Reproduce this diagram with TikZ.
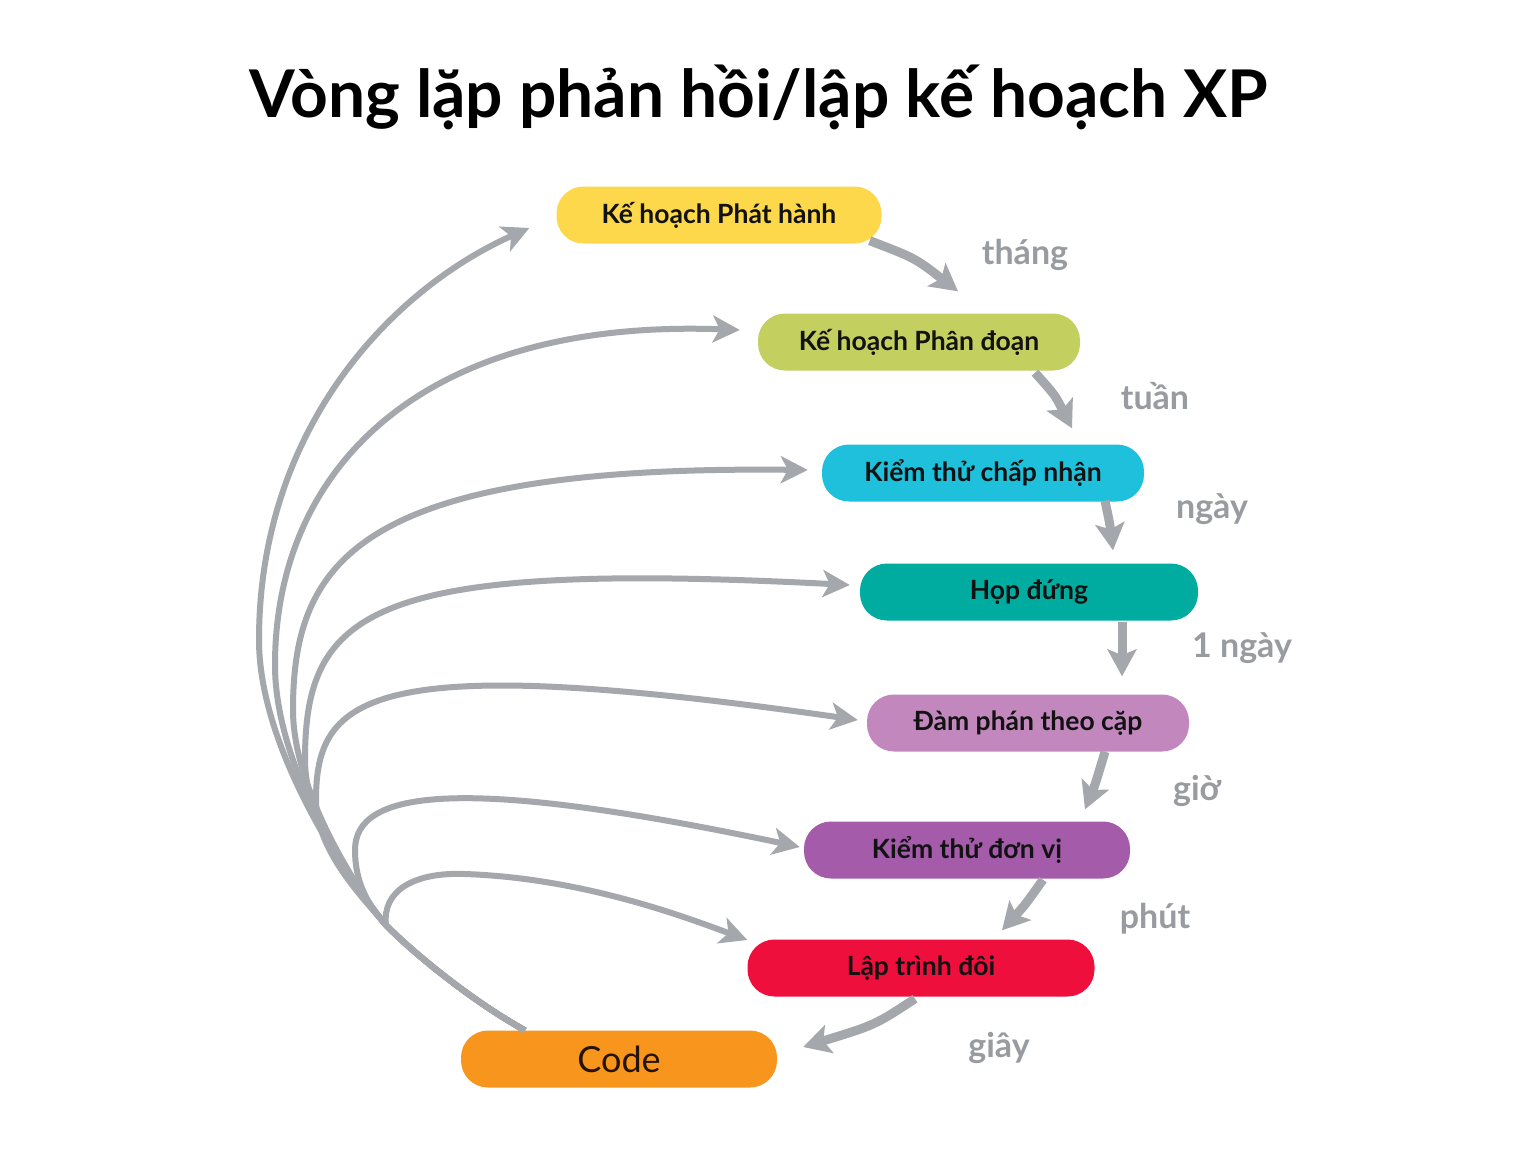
\documentclass[tikz,border=0pt]{standalone}
\usepackage{fontspec}
\setmainfont{Lato}
\usetikzlibrary{arrows.meta,calc}
\definecolor{cyel}{HTML}{FDD84A}
\definecolor{clime}{HTML}{C3CF5E}
\definecolor{ccyan}{HTML}{1EC0DB}
\definecolor{cteal}{HTML}{00AB9F}
\definecolor{cpink}{HTML}{C288BD}
\definecolor{cpurp}{HTML}{A45BA9}
\definecolor{cred}{HTML}{EF0F3D}
\definecolor{corange}{HTML}{F7951D}
\definecolor{cline}{HTML}{A4A7AB}
\definecolor{clabel}{HTML}{989B9F}
\begin{document}
\begin{tikzpicture}[x=1pt,y=-1pt,
  stepbox/.style={rounded corners=27pt, minimum height=57pt, inner sep=0pt,
    font=\fontsize{26.5}{30}\selectfont\bfseries, text=black!93},
  loop/.style={draw=cline, line width=6pt,
    -{Stealth[length=27pt,width=27pt,inset=7pt]}},
  down/.style={draw=cline, line width=9pt,
    -{Stealth[length=27pt,width=29pt,inset=6pt]}},
  tlabel/.style={text=clabel, font=\fontsize{34}{40}\selectfont\bfseries}]
\useasboundingbox (0,0) rectangle (1536,1152);
\fill[white] (0,0) rectangle (1536,1152);

\node[font=\bfseries] (title) at (759,97)
  {\resizebox{1018pt}{!}{Vòng lặp phản hồi/lập kế hoạch XP}};

\node[stepbox, fill=cyel, minimum width=325pt] (n1) at (719,215) {Kế hoạch Phát hành};
\node[stepbox, fill=clime, minimum width=322pt] (n2) at (919,342) {Kế hoạch Phân đoạn};
\node[stepbox, fill=ccyan, minimum width=322pt] (n3) at (983,473) {Kiểm thử chấp nhận};
\node[stepbox, fill=cteal, minimum width=338pt] (n4) at (1029,592) {Họp đứng};
\node[stepbox, fill=cpink, minimum width=322pt] (n5) at (1028,723) {Đàm phán theo cặp};
\node[stepbox, fill=cpurp, minimum width=326pt] (n6) at (967,850) {Kiểm thử đơn vị};
\node[stepbox, fill=cred, minimum width=347pt] (n7) at (921,968) {Lập trình đôi};
\node[stepbox, fill=corange, minimum width=316pt, font=\fontsize{36}{40}\selectfont, text={black!85!orange}] (n8) at (619,1059) {Code};

\node[tlabel] (l1) at (1025,255) {tháng};
\node[tlabel] (l2) at (1155,396) {tuần};
\node[tlabel] (l3) at (1212,509) {ngày};
\node[tlabel] (l4) at (1242,648) {1 ngày};
\node[tlabel] (l5) at (1197,791) {giờ};
\node[tlabel] (l6) at (1155,919) {phút};
\node[tlabel] (l7) at (999,1048) {giây};

% downward arrows
\draw[down] ($(n1.south east)+(-12,-3)$) .. controls (915,258) .. ($(n2.north)+(39,-22)$);
\draw[down] ($(n2.south)+(116,2)$) .. controls (1055,395) .. ($(n3.north)+(89,-16)$);
\draw[down] ($(n3.south)+(122,-1)$) .. controls (1110,525) .. ($(n4.north)+(84,-13)$);
\draw[down] ($(n4.south)+(93,1)$) -- ($(n5.north)+(94,-18)$);
\draw[down] ($(n5.south)+(77,0)$) .. controls (1095,785) .. ($(n6.north)+(118,-12)$);
\draw[down] ($(n6.south)+(76,1)$) .. controls (1025,905) .. ($(n7.north)+(81,-9)$);
\draw[down] ($(n7.south)+(-6,2)$) .. controls (875,1025) .. ($(n8.east)+(26,-12)$);

% feedback loops from Code
\coordinate (s) at ($(n8.north)+(-94,0)$);
\coordinate (j) at (386,925);
\draw[loop] (s) .. controls (470,1000) and (410,950) .. (j)
  .. controls (355,890) and (259,754) .. (259,640)
  .. controls (259,430) and (390,290) .. ($(n1.west)+(-27,13)$);
\draw[loop] (s) .. controls (470,1000) and (410,950) .. (j)
  .. controls (355,890) and (275,769) .. (275,665)
  .. controls (275,470) and (420,318) .. ($(n2.west)+(-18,-12)$);
\draw[loop] (s) .. controls (470,1000) and (410,950) .. (j)
  .. controls (358,892) and (293,790) .. (293,710)
  .. controls (293,560) and (360,465) .. ($(n3.west)+(-14,-3)$);
\draw[loop] (s) .. controls (470,1000) and (410,950) .. (j)
  .. controls (360,894) and (305,825) .. (305,760)
  .. controls (305,610) and (370,560) .. ($(n4.west)+(-10,-7)$);
\draw[loop] (s) .. controls (470,1000) and (410,950) .. (j)
  .. controls (362,897) and (316,850) .. (316,800)
  .. controls (316,695) and (370,650) .. ($(n5.west)+(-9,-3)$);
\draw[loop] (s) .. controls (470,1000) and (410,950) .. (j)
  .. controls (366,903) and (355,880) .. (355,850)
  .. controls (355,790) and (460,775) .. ($(n6.west)+(-4,-3)$);
\draw[loop] (s) .. controls (470,1000) and (410,950) .. (j)
  .. controls (382,890) and (415,872) .. (465,874)
  .. controls (580,878) and (680,915) .. ($(n7.west)+(0,-28)$);
\end{tikzpicture}
\end{document}
